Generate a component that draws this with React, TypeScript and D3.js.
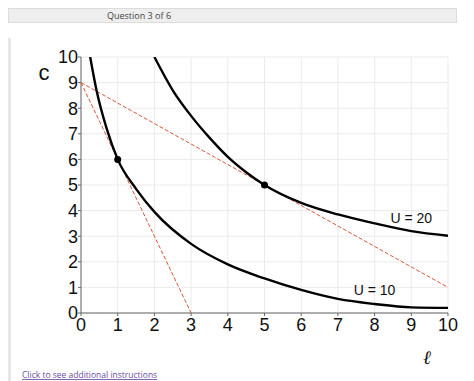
import React from "react";
import * as d3 from "d3";

const xTicks = [0, 1, 2, 3, 4, 5, 6, 7, 8, 9, 10];
const yTicks = [0, 1, 2, 3, 4, 5, 6, 7, 8, 9, 10];

// indifference curve U = 10 (l, c)
const u10L = [0.25, 0.43, 0.7, 1, 1.5, 2, 3, 4, 5, 6, 7, 8, 9, 10];
const u10C = [10, 8.65, 7.2, 6, 4.85, 3.95, 2.7, 1.9, 1.35, 0.9, 0.55, 0.35, 0.22, 0.2];

// indifference curve U = 20
const u20L = [2, 2.5, 3, 3.5, 4, 4.5, 5, 6, 7, 8, 9, 10];
const u20C = [10, 8.7, 7.7, 6.85, 6.1, 5.5, 5, 4.3, 3.85, 3.5, 3.2, 3.02];

// budget lines (dashed)
const budget1L = [0, 3];
const budget1C = [9, 0];
const budget2L = [0, 10];
const budget2C = [9, 1];

// optimum points
const dotsL = [1, 5];
const dotsC = [6, 5];

const labels = [
  { text: "U = 20", l: 9.0, c: 3.7 },
  { text: "U = 10", l: 8.0, c: 0.9 },
];

export default function App() {
  const x = d3.scaleLinear().domain([0, 10]).range([81, 448]);
  const y = d3.scaleLinear().domain([0, 10]).range([313, 57]);

  const line = d3
    .line<[number, number]>()
    .x((d) => x(d[0]))
    .y((d) => y(d[1]))
    .curve(d3.curveMonotoneX);
  const straight = d3
    .line<[number, number]>()
    .x((d) => x(d[0]))
    .y((d) => y(d[1]));

  const u10 = u10L.map((l, i) => [l, u10C[i]] as [number, number]);
  const u20 = u20L.map((l, i) => [l, u20C[i]] as [number, number]);
  const b1 = budget1L.map((l, i) => [l, budget1C[i]] as [number, number]);
  const b2 = budget2L.map((l, i) => [l, budget2C[i]] as [number, number]);

  const font = "'Liberation Sans', Arial, Helvetica, sans-serif";

  return (
    <svg
      width={474}
      height={381}
      style={{ position: "absolute", left: 0, top: 0, background: "#fff" }}
    >
      {/* header bar */}
      <rect x={8.5} y={8.5} width={448} height={14} fill="#eeeeee" stroke="#dcdcdc" />
      <text x={107} y={18.5} fontSize={9} fill="#444" fontFamily="'Open Sans', sans-serif">
        Question 3 of 6
      </text>
      {/* left bar */}
      <rect x={8} y={38} width={3} height={343} fill="#e6e6e6" />

      {/* grid */}
      <g>
        {xTicks.map((t) => (
          <line key={"gx" + t} x1={x(t)} x2={x(t)} y1={y(0)} y2={y(10)} stroke="#ebebeb" strokeWidth={1} />
        ))}
        {yTicks.map((t) => (
          <line key={"gy" + t} x1={x(0)} x2={x(10)} y1={y(t)} y2={y(t)} stroke="#ebebeb" strokeWidth={1} />
        ))}
      </g>

      {/* axes */}
      <line x1={x(0)} x2={x(0)} y1={y(0)} y2={y(10)} stroke="#666" strokeWidth={1} />
      <line x1={x(0)} x2={x(10)} y1={y(0)} y2={y(0)} stroke="#666" strokeWidth={1} />
      {yTicks.map((t) => (
        <g key={"yt" + t}>
          <line x1={x(0) - 3} x2={x(0)} y1={y(t)} y2={y(t)} stroke="#666" />
          <text
            x={x(0) - 3}
            y={y(t)}
            dy="0.36em"
            textAnchor="end"
            fontSize={18}
            fontFamily={font}
            fill="#111"
          >
            {t}
          </text>
        </g>
      ))}
      {xTicks.map((t) => (
        <g key={"xt" + t}>
          <line x1={x(t)} x2={x(t)} y1={y(0)} y2={y(0) + 3} stroke="#666" />
          <text x={x(t)} y={331} textAnchor="middle" fontSize={18} fontFamily={font} fill="#111">
            {t}
          </text>
        </g>
      ))}

      {/* axis labels */}
      <text x={44} y={80} textAnchor="middle" fontSize={22} fontFamily={font} fill="#111">
        c
      </text>
      <text
        x={427}
        y={364}
        textAnchor="middle"
        fontSize={19}
        fontStyle="italic"
        fontFamily="'DejaVu Serif', serif"
        fill="#111"
      >
        ℓ
      </text>

      <defs>
        <clipPath id="plot">
          <rect x={x(0)} y={y(10)} width={x(10) - x(0)} height={y(0) - y(10)} />
        </clipPath>
      </defs>

      <g clipPath="url(#plot)">
        <path d={straight(b1) || ""} fill="none" stroke="#d4583a" strokeWidth={1} strokeDasharray="4,2" />
        <path d={straight(b2) || ""} fill="none" stroke="#d4583a" strokeWidth={1} strokeDasharray="4,2" />
        <path d={line(u10) || ""} fill="none" stroke="#000" strokeWidth={2.4} />
        <path d={line(u20) || ""} fill="none" stroke="#000" strokeWidth={2.4} />
      </g>

      {dotsL.map((l, i) => (
        <circle key={"d" + i} cx={x(l)} cy={y(dotsC[i])} r={3.5} fill="#000" />
      ))}

      {labels.map((lb) => (
        <text
          key={lb.text}
          x={x(lb.l)}
          y={y(lb.c)}
          dy="0.36em"
          textAnchor="middle"
          fontSize={14}
          fontFamily={font}
          fill="#111"
        >
          {lb.text}
        </text>
      ))}

      <text
        x={22}
        y={378}
        fontSize={8.5}
        fill="#6b4ea3"
        textDecoration="underline"
        fontFamily="'Open Sans', sans-serif"
      >
        Click to see additional instructions
      </text>
    </svg>
  );
}
